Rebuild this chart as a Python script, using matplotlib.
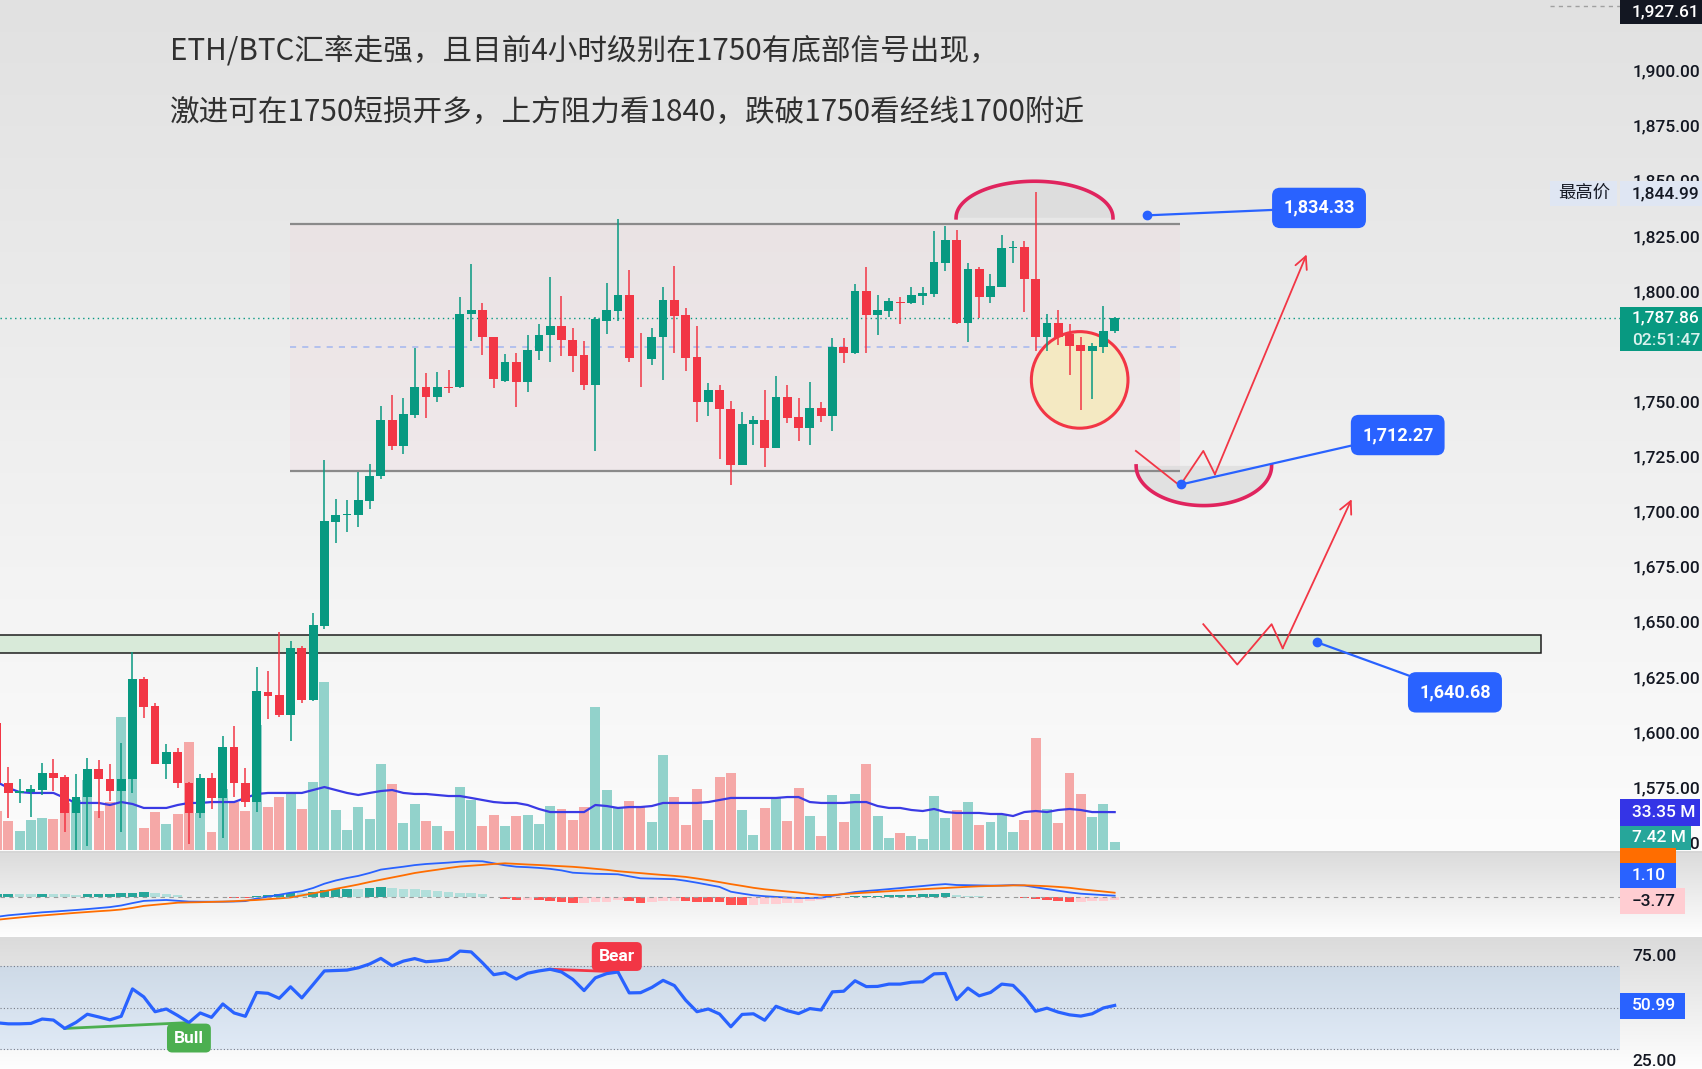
import numpy as np
import matplotlib
matplotlib.use("Agg")
import matplotlib.pyplot as plt
from matplotlib.patches import Rectangle, Ellipse
from matplotlib.ticker import FuncFormatter

plt.rcParams['font.family'] = ['Roboto', 'Noto Sans', 'Noto Sans CJK SC', 'DejaVu Sans']

# ---- data (4h candles, index -1 .. 98) ----
bars = np.arange(-1, 99)

opens = [1604.0, 1576.7, 1572.2, 1572.9, 1573.7, 1581.3, 1579.4, 1563.1, 1570.4, 1583.1,
         1578.5, 1573.4, 1578.5, 1623.9, 1611.8, 1585.5, 1590.8, 1577.0, 1563.4, 1579.0,
         1570.2, 1593.1, 1577.0, 1568.4, 1618.3, 1616.8, 1607.7, 1638.0, 1614.5, 1648.1,
         1695.4, 1698.6, 1698.5, 1705.0, 1715.9, 1741.3, 1729.5, 1743.8, 1756.4, 1752.1,
         1756.6, 1756.4, 1789.5, 1791.4, 1779.0, 1759.4, 1768.0, 1758.6, 1773.0, 1780.1,
         1784.2, 1777.8, 1771.0, 1757.4, 1786.6, 1791.1, 1798.3, 1770.0, 1769.4, 1779.0,
         1796.0, 1789.2, 1769.9, 1749.9, 1755.2, 1746.4, 1721.1, 1739.6, 1741.6, 1728.7,
         1751.8, 1742.7, 1737.8, 1746.8, 1743.5, 1774.8, 1771.8, 1800.1, 1789.2, 1791.1,
         1795.2, 1794.8, 1797.8, 1798.7, 1812.9, 1823.2, 1785.7, 1809.9, 1797.2, 1802.0,
         1819.4, 1819.9, 1805.3, 1779.0, 1785.7, 1780.6, 1775.6, 1773.0, 1774.8, 1782.1]
highs = [1608.0, 1584.3, 1578.5, 1576.0, 1585.8, 1587.6, 1580.5, 1581.0, 1588.1, 1587.3,
         1585.5, 1595.2, 1636.1, 1624.8, 1613.0, 1594.6, 1592.6, 1577.5, 1581.0, 1581.6,
         1598.2, 1602.7, 1583.5, 1629.3, 1627.7, 1645.5, 1641.3, 1639.0, 1654.2, 1723.4,
         1705.7, 1705.3, 1718.1, 1721.4, 1747.9, 1752.9, 1751.4, 1774.1, 1763.0, 1763.3,
         1764.2, 1797.5, 1812.3, 1794.5, 1779.3, 1771.5, 1771.8, 1780.1, 1785.1, 1806.3,
         1797.8, 1783.4, 1777.4, 1788.1, 1803.8, 1832.7, 1809.6, 1781.2, 1783.1, 1801.7,
         1811.4, 1792.2, 1784.2, 1758.5, 1757.4, 1750.2, 1745.0, 1743.4, 1754.9, 1761.5,
         1757.4, 1751.4, 1758.9, 1749.6, 1778.6, 1778.6, 1803.2, 1810.8, 1798.2, 1796.7,
         1797.5, 1802.0, 1802.0, 1827.3, 1829.5, 1827.7, 1812.9, 1811.1, 1807.6, 1825.5,
         1822.7, 1822.7, 1844.99, 1789.6, 1791.4, 1785.1, 1779.3, 1776.6, 1793.3, 1788.1]
lows = [1568.0, 1560.8, 1568.0, 1561.3, 1571.4, 1573.4, 1554.8, 1546.5, 1548.3, 1560.8,
        1568.7, 1554.8, 1572.5, 1606.5, 1585.3, 1578.5, 1574.8, 1549.2, 1560.8, 1564.9,
        1551.8, 1570.4, 1566.1, 1563.9, 1605.8, 1607.0, 1596.1, 1613.3, 1614.2, 1646.6,
        1685.6, 1690.9, 1693.2, 1701.2, 1714.7, 1727.7, 1726.1, 1742.3, 1742.6, 1749.9,
        1753.7, 1756.2, 1777.5, 1771.0, 1755.9, 1758.6, 1747.2, 1754.4, 1768.8, 1768.0,
        1770.6, 1763.5, 1754.9, 1727.6, 1780.6, 1786.2, 1767.6, 1756.4, 1766.5, 1759.7,
        1772.1, 1763.9, 1740.4, 1743.4, 1723.7, 1712.1, 1721.1, 1730.2, 1720.4, 1728.7,
        1740.0, 1732.2, 1730.2, 1740.4, 1736.7, 1767.3, 1771.5, 1772.1, 1780.1, 1788.4,
        1785.1, 1794.2, 1793.7, 1797.2, 1809.3, 1785.1, 1777.1, 1787.7, 1794.8, 1801.7,
        1812.9, 1790.7, 1773.0, 1773.0, 1775.6, 1761.7, 1746.1, 1751.1, 1772.1, 1781.2]
closes = [1576.7, 1572.2, 1573.2, 1574.0, 1581.3, 1579.3, 1563.1, 1570.4, 1583.1, 1578.5,
          1573.4, 1578.5, 1623.9, 1611.5, 1585.5, 1590.8, 1577.0, 1563.4, 1579.0, 1570.2,
          1593.1, 1577.0, 1568.4, 1618.6, 1616.5, 1607.7, 1638.0, 1614.5, 1648.6, 1695.9,
          1698.5, 1699.0, 1705.3, 1716.1, 1741.3, 1729.5, 1744.3, 1756.4, 1752.1, 1756.4,
          1756.2, 1789.6, 1791.4, 1779.0, 1760.0, 1768.0, 1758.6, 1773.3, 1780.1, 1784.2,
          1777.8, 1770.7, 1757.4, 1787.2, 1791.4, 1798.3, 1769.8, 1769.9, 1779.0, 1796.0,
          1788.9, 1769.8, 1749.9, 1755.2, 1746.4, 1721.1, 1739.6, 1741.6, 1728.7, 1751.8,
          1742.6, 1737.8, 1746.8, 1743.5, 1774.8, 1771.8, 1800.1, 1789.2, 1791.4, 1795.7,
          1794.8, 1798.2, 1799.3, 1813.4, 1823.2, 1785.7, 1809.9, 1797.2, 1802.3, 1819.4,
          1819.8, 1805.3, 1779.0, 1785.7, 1779.0, 1775.3, 1773.0, 1775.1, 1781.9, 1787.86]

# volume in millions, with its moving average
volumes = [34.3, 25.5, 16.7, 26.4, 28.2, 27.3, 41.4, 44.0, 61.6, 34.3,
           42.2, 117.0, 72.2, 19.4, 33.4, 22.9, 31.7, 95.0, 32.6, 15.8,
           53.7, 42.2, 34.3, 110.0, 37.8, 46.6, 50.2, 36.1, 59.8, 147.8,
           35.2, 17.6, 37.8, 27.3, 75.7, 58.1, 23.8, 40.5, 25.5, 21.1,
           16.7, 55.4, 44.0, 21.1, 30.8, 21.1, 29.9, 30.8, 22.9, 38.7,
           36.1, 26.4, 37.8, 125.8, 52.8, 37.0, 43.1, 37.8, 24.6, 83.6,
           46.6, 22.0, 53.7, 26.4, 64.2, 67.8, 35.2, 13.2, 37.0, 45.8,
           25.5, 54.6, 29.9, 12.3, 48.4, 24.6, 49.3, 75.7, 29.9, 10.6,
           15.0, 12.3, 9.7, 47.5, 28.2, 35.2, 42.2, 22.0, 24.6, 31.7,
           15.8, 26.4, 98.6, 36.1, 23.8, 67.8, 49.3, 29.0, 40.5, 7.42]
vol_ma = [59.8, 54.6, 51.0, 50.2, 50.2, 50.2, 45.8, 41.4, 41.4, 41.4,
          39.6, 42.2, 40.5, 37.0, 37.0, 37.0, 39.6, 41.4, 41.4, 42.2,
          42.2, 42.2, 45.8, 49.3, 50.2, 50.2, 50.2, 50.2, 52.8, 55.4,
          52.8, 50.2, 48.4, 50.2, 51.9, 52.8, 50.2, 49.3, 49.3, 48.4,
          47.5, 47.5, 45.8, 44.0, 42.2, 41.4, 41.4, 39.6, 36.1, 33.4,
          33.4, 33.4, 33.4, 39.6, 38.7, 37.0, 37.8, 37.8, 38.7, 41.4,
          41.4, 41.4, 41.4, 42.2, 44.0, 45.8, 45.8, 45.8, 45.8, 45.8,
          46.6, 46.6, 42.2, 41.4, 41.4, 41.4, 42.2, 42.2, 38.7, 37.0,
          37.0, 35.2, 34.3, 36.1, 33.4, 32.6, 32.6, 32.6, 31.7, 31.7,
          29.9, 33.4, 34.3, 33.4, 35.2, 36.1, 35.2, 33.4, 33.4, 33.35]

macd_line = [-19.5, -18.0, -17.0, -16.0, -15.0, -14.3, -13.5, -12.7, -11.8, -10.8,
             -9.8, -8.2, -5.8, -3.6, -3.1, -2.7, -3.5, -4.3, -4.4, -4.4,
             -4.4, -4.2, -3.8, -1.2, 0.6, 2.5, 4.6, 6.1, 9.3, 13.6,
             16.8, 19.3, 21.4, 24.3, 27.7, 29.2, 30.6, 32.2, 33.3, 34.0,
             34.7, 35.6, 36.2, 36.0, 34.0, 32.0, 30.6, 30.1, 29.4, 28.4,
             26.9, 24.6, 24.0, 23.5, 23.3, 23.0, 21.0, 19.0, 18.7, 18.4,
             18.1, 16.5, 14.6, 12.5, 10.4, 5.6, 3.7, 2.0, 1.1, 0.4,
             -0.2, -0.7, -0.6, -0.4, 1.5, 3.4, 5.3, 6.3, 7.2, 8.2,
             9.2, 10.3, 11.3, 12.4, 13.2, 12.3, 12.1, 11.9, 11.7, 11.8,
             12.2, 11.8, 10.0, 8.3, 6.6, 4.9, 3.6, 2.9, 2.2, 1.6]
signal_line = [-22.5, -21.3, -20.2, -19.1, -18.2, -17.3, -16.4, -15.5, -14.7, -13.9,
               -13.2, -12.2, -10.6, -8.6, -7.5, -6.5, -5.4, -5.1, -4.9, -4.6,
               -4.3, -3.9, -3.2, -2.7, -1.9, -1.1, -0.2, 1.9, 4.0, 6.1,
               8.5, 10.6, 12.8, 15.3, 17.6, 19.8, 22.0, 24.3, 26.0, 27.6,
               29.3, 30.8, 31.6, 32.4, 33.3, 34.0, 33.4, 32.8, 32.3, 31.7,
               31.1, 30.5, 29.6, 28.5, 27.5, 26.1, 25.1, 24.2, 23.2, 22.3,
               21.4, 20.4, 18.8, 17.1, 15.2, 13.2, 11.4, 9.5, 8.0, 6.9,
               5.8, 4.8, 3.4, 2.3, 2.3, 3.2, 4.0, 4.7, 5.4, 6.1,
               6.8, 7.5, 8.1, 8.7, 9.3, 9.9, 10.5, 11.0, 11.3, 11.6,
               11.9, 12.0, 11.6, 11.1, 10.4, 9.5, 8.1, 6.9, 5.8, 4.6]

rsi = [42.7, 42.2, 42.2, 42.4, 44.5, 44.0, 40.0, 42.9, 46.8, 45.5,
       44.1, 45.8, 58.9, 55.1, 48.0, 49.3, 46.2, 42.8, 47.4, 45.3,
       51.7, 47.4, 45.8, 57.2, 56.8, 54.4, 59.9, 54.6, 61.0, 67.5,
       67.7, 67.9, 69.0, 70.8, 73.5, 70.0, 72.2, 73.4, 71.9, 72.3,
       73.0, 77.0, 76.6, 71.4, 65.7, 66.6, 63.6, 66.4, 67.5, 68.3,
       67.0, 63.5, 58.1, 64.2, 66.2, 67.0, 57.0, 57.1, 59.6, 63.0,
       60.5, 53.5, 48.0, 49.3, 46.9, 40.8, 46.7, 47.0, 43.9, 50.6,
       48.5, 47.1, 49.5, 48.8, 57.5, 57.8, 62.8, 60.0, 60.1, 61.2,
       61.2, 62.1, 62.3, 66.1, 66.3, 53.8, 59.3, 55.6, 57.2, 61.2,
       60.6, 55.2, 48.2, 49.7, 47.8, 46.5, 45.9, 47.0, 49.8, 51.0]

price_ticks = [1550, 1575, 1600, 1625, 1650, 1675, 1700, 1725, 1750,
               1800, 1825, 1850, 1875, 1900]

# drawings (bar index, price)
range_top, range_bottom, range_mid = 1830.6, 1718.3, 1774.5
zone_low, zone_high = 1635.7, 1644.2
last_price = 1787.86
path_up = ([99.88, 103.78, 105.85, 106.88, 115.0], [1727.5, 1711.7, 1727.5, 1716.9, 1816.6])
path_low = ([105.85, 108.86, 111.9, 112.88, 118.99], [1648.9, 1630.6, 1648.9, 1638.0, 1705.6])
callouts = [(100.86, 1834.33, 116.1, 1837.7, '1,834.33'),
            (103.87, 1712.27, 123.07, 1734.7, '1,712.27'),
            (115.94, 1640.68, 128.14, 1618.0, '1,640.68')]

title1 = 'ETH/BTC汇率走强，且目前4小时级别在1750有底部信号出现，'
title2 = '激进可在1750短损开多，上方阻力看1840，跌破1750看经线1700附近'

# ---- figure ----
W, H = 1702, 1069
fig = plt.figure(figsize=(W / 100, H / 100), dpi=100)

# background gradients drawn as one picture
bg = np.zeros((H, W, 3))
bg[0:851] = np.linspace(225, 252, 851)[:, None, None]
bg[851:853] = 214
bg[853:937] = np.linspace(220, 254, 84)[:, None, None]
bg[937:H] = np.linspace(219, 254, H - 937)[:, None, None]
band_top = np.array([206, 218, 231])
band_bot = np.array([224, 234, 246])
t = np.linspace(0, 1, 1050 - 966)[:, None]
bg[966:1050, :1620] = (band_top + (band_bot - band_top) * t)[:, None, :]
ax_bg = fig.add_axes([0, 0, 1, 1])
ax_bg.imshow(bg / 255, aspect='auto', extent=[0, W, H, 0])
ax_bg.set_xlim(0, W)
ax_bg.set_ylim(H, 0)
ax_bg.axis('off')


def rect(x0, y0, x1, y1):
    return [x0 / W, 1 - y1 / H, (x1 - x0) / W, (y1 - y0) / H]


ax_vol = fig.add_axes(rect(0, 0, 1620, 850))
ax = fig.add_axes(rect(0, 0, 1620, 850))
ax_macd = fig.add_axes(rect(0, 853, 1620, 936))
ax_rsi = fig.add_axes(rect(0, 938, 1620, 1069))
xlim = (-0.735, 142.76)
for a in (ax_vol, ax, ax_macd, ax_rsi):
    a.set_facecolor('none')
    a.set_xlim(*xlim)
    a.set_xticks([])
    for s in a.spines.values():
        s.set_visible(False)

o = np.array(opens)
c = np.array(closes)
up = c >= o
GREEN, RED = '#089981', '#f23645'
ccol = np.where(up, GREEN, RED)

# volume
vcol = np.where(up, '#92d2cb', '#f5a8a7')
ax_vol.bar(bars, volumes, width=0.88, color=vcol)
ax_vol.plot(bars, vol_ma, color='#3a3ae4', lw=1.6)
ax_vol.set_ylim(0, 748)
ax_vol.set_yticks([])

# price panel
ax.set_ylim(1546.5, 1932.0)
ax.vlines(bars, lows, highs, colors=ccol, lw=1.1, zorder=4)
body = np.maximum(np.abs(c - o), 0.35)
ax.bar(bars, body, bottom=np.minimum(o, c), width=0.78, color=ccol, zorder=4)

ax.add_patch(Rectangle((24.95, range_bottom), 78.85, range_top - range_bottom,
                       fc='#f0d6dc', alpha=0.25, ec='none', zorder=1))
ax.hlines([range_top, range_bottom], 24.95, 103.8, colors='#8a8a8a', lw=1.6, zorder=2)
ax.hlines(range_mid, 24.95, 103.8, colors='#a3b6ef', linestyles=(0, (4, 4)), lw=1.1, zorder=2)
ax.axhline(last_price, color=GREEN, ls=(0, (1, 2.5)), lw=1, zorder=2)
ax.add_patch(Rectangle((-2, zone_low), 137.8, zone_high - zone_low,
                       fc='#d8ead9', ec='#1e1e1e', lw=1.1, zorder=2))
ax.hlines(1929.1, 136.6, 142.76, colors='#a0a0a0', linestyles=(0, (3, 3)), lw=1)

# arcs and circle
ang = np.linspace(0, np.pi, 80)
ax.fill(90.9 + 6.95 * np.cos(ang), 1833.2 + 16.6 * np.sin(ang), color='#d6d6d6', alpha=0.55, lw=0, zorder=1)
ax.plot(90.9 + 6.95 * np.cos(ang), 1833.2 + 16.6 * np.sin(ang), color='#e0245e', lw=2.6, zorder=5)
ang2 = np.linspace(np.pi, 2 * np.pi, 80)
ax.fill(105.9 + 6.0 * np.cos(ang2), 1720.7 + 18.0 * np.sin(ang2), color='#d6d6d6', alpha=0.55, lw=0, zorder=1)
ax.plot(105.9 + 6.0 * np.cos(ang2), 1720.7 + 18.0 * np.sin(ang2), color='#e0245e', lw=2.6, zorder=5)
ax.add_patch(Ellipse((94.9, 1759.7), 8.56, 43.8, fc='#f4e9c2', ec=RED, lw=2.2, zorder=2))

# red zigzag arrows
for px, py in (path_up, path_low):
    ax.plot(px[:-1], py[:-1], color=RED, lw=1.3, zorder=5)
    ax.annotate('', xy=(px[-1], py[-1]), xytext=(px[-2], py[-2]),
                arrowprops=dict(arrowstyle='->', color=RED, lw=1.3, mutation_scale=22,
                                shrinkA=0, shrinkB=0), zorder=5)

# blue callouts
for k, p, lk, lp, txt in callouts:
    ax.plot([k, lk], [p, lp], color='#2962ff', lw=1.6, zorder=6)
    ax.plot(k, p, 'o', ms=6, color='#2962ff', zorder=7)
    ax.text(lk, lp, txt, ha='center', va='center', color='white', fontsize=13, weight='bold',
            bbox=dict(boxstyle='round,pad=0.62,rounding_size=0.45', fc='#2962ff', ec='none'), zorder=8)

ax.yaxis.tick_right()
ax.set_yticks(price_ticks)
ax.yaxis.set_major_formatter(FuncFormatter(lambda v, _: f'{v:,.2f}'))
ax.tick_params(axis='y', length=0, pad=9, labelsize=12.5, labelcolor='#131722')
for lab in ax.get_yticklabels():
    lab.set_fontweight('medium')

# MACD
hist = np.array(macd_line) - np.array(signal_line)
prev = np.concatenate([[hist[0]], hist[:-1]])
hcol = np.where(hist >= 0, np.where(hist >= prev, '#26a69a', '#b2dfdb'),
                np.where(hist < prev, '#ff5252', '#ffcdd2'))
ax_macd.bar(bars, hist, width=0.85, color=hcol)
ax_macd.plot(bars, macd_line, color='#2962ff', lw=1.3)
ax_macd.plot(bars, signal_line, color='#ff6d00', lw=1.3)
ax_macd.axhline(0, color='#9a9a9a', ls=(0, (4, 4)), lw=0.8)
ax_macd.set_ylim(-38.7, 44.3)
ax_macd.set_yticks([])

# RSI
ax_rsi.set_ylim(20.6, 83.25)
for lvl in (70, 50, 30):
    ax_rsi.axhline(lvl, color='#787b86', ls=(0, (1, 2)), lw=0.8)
ax_rsi.plot(bars, rsi, color='#2962ff', lw=2.3, zorder=3)
ax_rsi.plot([5, 16], [40.0, 42.8], color='#4caf50', lw=2, zorder=2)
ax_rsi.plot([48, 54], [68.3, 67.1], color=RED, lw=2, zorder=2)
ax_rsi.text(16.0, 35.4, 'Bull', ha='center', va='center', color='white', fontsize=12.5, weight='bold',
            bbox=dict(boxstyle='round,pad=0.4,rounding_size=0.3', fc='#4caf50', ec='none'), zorder=5)
ax_rsi.text(53.9, 74.4, 'Bear', ha='center', va='center', color='white', fontsize=12.5, weight='bold',
            bbox=dict(boxstyle='round,pad=0.4,rounding_size=0.3', fc=RED, ec='none'), zorder=5)
ax_rsi.yaxis.tick_right()
ax_rsi.set_yticks([75, 25])
ax_rsi.yaxis.set_major_formatter(FuncFormatter(lambda v, _: f'{v:.2f}'))
ax_rsi.tick_params(axis='y', length=0, pad=9, labelsize=12.5, labelcolor='#131722')
for lab in ax_rsi.get_yticklabels():
    lab.set_fontweight('medium')


# price-scale tags on the right
def tag(y0, y1, txt, fc, tc='white', x0=1620, x1=1702, tx=1632, ha='left', family=None):
    fig.add_artist(Rectangle((x0 / W, 1 - y1 / H), (x1 - x0) / W, (y1 - y0) / H,
                             transform=fig.transFigure, fc=fc, ec='none', zorder=5))
    if txt:
        fig.text(tx / W, 1 - (y0 + y1) / 2 / H, txt, ha=ha, va='center', color=tc,
                 fontsize=12.5, weight='medium', zorder=6, family=family)


tag(0, 24, '1,927.61', '#131722')
tag(181, 206, '最高价', '#dfe6f3', '#131722', x0=1550, x1=1617, tx=1584, ha='center',
    family=['Noto Sans CJK SC', 'DejaVu Sans'])
tag(181, 206, '1,844.99', '#dfe6f3', '#131722')
tag(307, 351, '', GREEN)
fig.text(1632 / W, 1 - 318 / H, '1,787.86', color='white', fontsize=12.5, weight='medium',
         va='center', zorder=6)
fig.text(1632 / W, 1 - 340 / H, '02:51:47', color='#d9f2ee', fontsize=12.5, weight='medium',
         va='center', zorder=6)
tag(799, 826, '33.35 M', '#3434e6', x1=1700)
tag(826, 850, '7.42 M', '#26a69a', x1=1691)
tag(848, 863, '', '#ff6d00', x1=1676)
tag(863, 888, '1.10', '#2962ff', x1=1676)
tag(888, 914, '\u22123.77', '#ffcdd2', '#131722', x1=1685)
tag(993, 1019, '50.99', '#2962ff', x1=1685)

cjk = ['Noto Sans CJK SC', 'DejaVu Sans']
fig.text(170 / W, 1 - 51 / H, title1, fontsize=21.3, color='#303030', va='center', family=cjk)
fig.text(170 / W, 1 - 112 / H, title2, fontsize=21.3, color='#303030', va='center', family=cjk)

fig.savefig('out.png', dpi=100)
